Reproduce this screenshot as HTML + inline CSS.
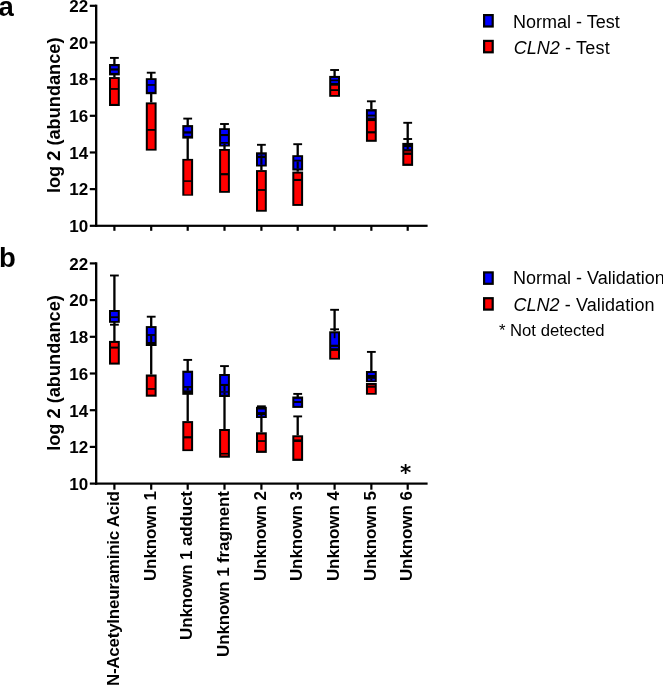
<!DOCTYPE html>
<html><head><meta charset="utf-8"><title>Figure</title>
<style>
html,body{margin:0;padding:0;background:#fff;}
svg{display:block;}
text{font-family:"Liberation Sans",Arial,sans-serif;fill:#000;}
.tl{font-size:17px;font-weight:bold;text-anchor:end;}
.xl{font-size:17px;font-weight:bold;text-anchor:end;}
.yt{font-size:18.2px;font-weight:bold;text-anchor:middle;}
.pl{font-size:27.5px;font-weight:bold;}
.lg{font-size:18px;}
</style></head>
<body>
<svg width="663" height="685" viewBox="0 0 663 685">
<rect width="663" height="685" fill="#fff"/>
<text x="-1.6" y="15.8" class="pl">a</text>
<text x="-0.9" y="266.7" class="pl">b</text>
<text transform="translate(59.6,115.3) rotate(-90)" class="yt">log 2 (abundance)</text>
<text transform="translate(59.7,373.0) rotate(-90)" class="yt">log 2 (abundance)</text>
<rect x="95.0" y="4.70" width="2.35" height="222.20" fill="#000"/>
<rect x="89.8" y="224.70" width="6.5" height="2.2" fill="#000"/>
<text x="88.1" y="232.10" class="tl">10</text>
<rect x="89.8" y="188.03" width="6.5" height="2.2" fill="#000"/>
<text x="88.1" y="195.43" class="tl">12</text>
<rect x="89.8" y="151.37" width="6.5" height="2.2" fill="#000"/>
<text x="88.1" y="158.77" class="tl">14</text>
<rect x="89.8" y="114.70" width="6.5" height="2.2" fill="#000"/>
<text x="88.1" y="122.10" class="tl">16</text>
<rect x="89.8" y="78.03" width="6.5" height="2.2" fill="#000"/>
<text x="88.1" y="85.43" class="tl">18</text>
<rect x="89.8" y="41.37" width="6.5" height="2.2" fill="#000"/>
<text x="88.1" y="48.77" class="tl">20</text>
<rect x="89.8" y="4.70" width="6.5" height="2.2" fill="#000"/>
<text x="88.1" y="12.10" class="tl">22</text>
<rect x="95.0" y="224.70" width="332.60" height="2.2" fill="#000"/>
<rect x="113.30" y="225.80" width="2.2" height="5.0" fill="#000"/>
<rect x="150.10" y="225.80" width="2.2" height="5.0" fill="#000"/>
<rect x="186.60" y="225.80" width="2.2" height="5.0" fill="#000"/>
<rect x="223.40" y="225.80" width="2.2" height="5.0" fill="#000"/>
<rect x="260.30" y="225.80" width="2.2" height="5.0" fill="#000"/>
<rect x="296.60" y="225.80" width="2.2" height="5.0" fill="#000"/>
<rect x="333.50" y="225.80" width="2.2" height="5.0" fill="#000"/>
<rect x="370.25" y="225.80" width="2.2" height="5.0" fill="#000"/>
<rect x="406.60" y="225.80" width="2.2" height="5.0" fill="#000"/>
<rect x="95.0" y="262.30" width="2.35" height="222.40" fill="#000"/>
<rect x="89.8" y="482.50" width="6.5" height="2.2" fill="#000"/>
<text x="88.1" y="489.90" class="tl">10</text>
<rect x="89.8" y="445.80" width="6.5" height="2.2" fill="#000"/>
<text x="88.1" y="453.20" class="tl">12</text>
<rect x="89.8" y="409.10" width="6.5" height="2.2" fill="#000"/>
<text x="88.1" y="416.50" class="tl">14</text>
<rect x="89.8" y="372.40" width="6.5" height="2.2" fill="#000"/>
<text x="88.1" y="379.80" class="tl">16</text>
<rect x="89.8" y="335.70" width="6.5" height="2.2" fill="#000"/>
<text x="88.1" y="343.10" class="tl">18</text>
<rect x="89.8" y="299.00" width="6.5" height="2.2" fill="#000"/>
<text x="88.1" y="306.40" class="tl">20</text>
<rect x="89.8" y="262.30" width="6.5" height="2.2" fill="#000"/>
<text x="88.1" y="269.70" class="tl">22</text>
<rect x="95.0" y="482.50" width="332.60" height="2.2" fill="#000"/>
<rect x="113.30" y="483.60" width="2.2" height="6.1" fill="#000"/>
<rect x="150.10" y="483.60" width="2.2" height="6.1" fill="#000"/>
<rect x="186.60" y="483.60" width="2.2" height="6.1" fill="#000"/>
<rect x="223.40" y="483.60" width="2.2" height="6.1" fill="#000"/>
<rect x="260.30" y="483.60" width="2.2" height="6.1" fill="#000"/>
<rect x="296.60" y="483.60" width="2.2" height="6.1" fill="#000"/>
<rect x="333.50" y="483.60" width="2.2" height="6.1" fill="#000"/>
<rect x="370.25" y="483.60" width="2.2" height="6.1" fill="#000"/>
<rect x="406.60" y="483.60" width="2.2" height="6.1" fill="#000"/>
<rect x="113.25" y="57.90" width="2.30" height="19.30" fill="#000"/>
<rect x="110.00" y="56.95" width="8.80" height="1.90" fill="#000"/>
<rect x="109.00" y="64.00" width="10.80" height="11.40" fill="#000"/>
<rect x="111.00" y="66.20" width="6.80" height="2.20" fill="#0000ff"/>
<rect x="111.00" y="70.60" width="6.80" height="2.30" fill="#0000ff"/>
<rect x="109.00" y="77.10" width="10.80" height="28.90" fill="#000"/>
<rect x="111.00" y="78.90" width="6.80" height="9.20" fill="#ff0000"/>
<rect x="111.00" y="89.80" width="6.80" height="14.10" fill="#ff0000"/>
<rect x="150.05" y="72.70" width="2.30" height="29.80" fill="#000"/>
<rect x="146.80" y="71.75" width="8.80" height="1.90" fill="#000"/>
<rect x="145.80" y="78.20" width="10.80" height="16.00" fill="#000"/>
<rect x="147.80" y="80.00" width="6.80" height="4.10" fill="#0000ff"/>
<rect x="147.80" y="85.80" width="6.80" height="6.10" fill="#0000ff"/>
<rect x="145.80" y="102.40" width="10.80" height="48.20" fill="#000"/>
<rect x="147.80" y="104.30" width="6.80" height="24.70" fill="#ff0000"/>
<rect x="147.80" y="130.80" width="6.80" height="18.10" fill="#ff0000"/>
<rect x="186.55" y="118.60" width="2.30" height="40.40" fill="#000"/>
<rect x="183.30" y="117.65" width="8.80" height="1.90" fill="#000"/>
<rect x="182.30" y="125.10" width="10.80" height="13.50" fill="#000"/>
<rect x="184.30" y="127.20" width="6.80" height="4.10" fill="#0000ff"/>
<rect x="184.30" y="133.60" width="6.80" height="2.30" fill="#0000ff"/>
<rect x="182.30" y="158.90" width="10.80" height="36.80" fill="#000"/>
<rect x="184.30" y="160.60" width="6.80" height="19.70" fill="#ff0000"/>
<rect x="184.30" y="181.90" width="6.80" height="12.50" fill="#ff0000"/>
<rect x="223.35" y="124.00" width="2.30" height="25.00" fill="#000"/>
<rect x="220.10" y="123.05" width="8.80" height="1.90" fill="#000"/>
<rect x="219.10" y="128.20" width="10.80" height="18.30" fill="#000"/>
<rect x="221.10" y="130.00" width="6.80" height="4.00" fill="#0000ff"/>
<rect x="221.10" y="136.10" width="6.80" height="5.90" fill="#0000ff"/>
<rect x="221.10" y="143.70" width="6.80" height="1.40" fill="#0000ff"/>
<rect x="223.45" y="143.70" width="2.10" height="1.40" fill="#000"/>
<rect x="219.10" y="149.00" width="10.80" height="43.80" fill="#000"/>
<rect x="221.10" y="150.80" width="6.80" height="22.30" fill="#ff0000"/>
<rect x="221.10" y="175.30" width="6.80" height="15.70" fill="#ff0000"/>
<rect x="260.25" y="144.80" width="2.30" height="25.40" fill="#000"/>
<rect x="257.00" y="143.85" width="8.80" height="1.90" fill="#000"/>
<rect x="256.00" y="152.30" width="10.80" height="14.20" fill="#000"/>
<rect x="258.00" y="154.60" width="6.80" height="1.20" fill="#0000ff"/>
<rect x="260.35" y="154.60" width="2.10" height="1.20" fill="#000"/>
<rect x="258.00" y="158.10" width="6.80" height="6.60" fill="#0000ff"/>
<rect x="260.35" y="158.10" width="2.10" height="6.60" fill="#000"/>
<rect x="256.00" y="170.10" width="10.80" height="41.60" fill="#000"/>
<rect x="258.00" y="171.90" width="6.80" height="17.20" fill="#ff0000"/>
<rect x="258.00" y="190.90" width="6.80" height="19.00" fill="#ff0000"/>
<rect x="296.55" y="144.20" width="2.30" height="27.50" fill="#000"/>
<rect x="293.30" y="143.25" width="8.80" height="1.90" fill="#000"/>
<rect x="292.30" y="155.20" width="10.80" height="15.30" fill="#000"/>
<rect x="294.30" y="157.00" width="6.80" height="2.70" fill="#0000ff"/>
<rect x="294.30" y="161.50" width="6.80" height="6.90" fill="#0000ff"/>
<rect x="296.65" y="161.50" width="2.10" height="6.90" fill="#000"/>
<rect x="292.30" y="171.60" width="10.80" height="34.30" fill="#000"/>
<rect x="294.30" y="173.60" width="6.80" height="5.30" fill="#ff0000"/>
<rect x="294.30" y="181.00" width="6.80" height="23.00" fill="#ff0000"/>
<rect x="333.45" y="70.00" width="2.30" height="6.00" fill="#000"/>
<rect x="330.20" y="69.05" width="8.80" height="1.90" fill="#000"/>
<rect x="329.20" y="75.90" width="10.80" height="20.90" fill="#000"/>
<rect x="331.20" y="78.00" width="6.80" height="1.50" fill="#0000ff"/>
<rect x="331.20" y="81.20" width="6.80" height="1.70" fill="#0000ff"/>
<rect x="331.20" y="85.70" width="6.80" height="3.50" fill="#ff0000"/>
<rect x="331.20" y="91.00" width="6.80" height="4.00" fill="#ff0000"/>
<rect x="370.20" y="101.30" width="2.30" height="7.90" fill="#000"/>
<rect x="366.95" y="100.35" width="8.80" height="1.90" fill="#000"/>
<rect x="365.95" y="109.10" width="10.80" height="32.70" fill="#000"/>
<rect x="367.95" y="111.50" width="6.80" height="3.10" fill="#0000ff"/>
<rect x="367.95" y="116.30" width="6.80" height="1.80" fill="#1a1aa0"/>
<rect x="367.95" y="121.10" width="6.80" height="10.10" fill="#ff0000"/>
<rect x="367.95" y="133.40" width="6.80" height="6.40" fill="#ff0000"/>
<rect x="406.55" y="122.80" width="2.30" height="20.20" fill="#000"/>
<rect x="403.30" y="121.85" width="8.80" height="1.90" fill="#000"/>
<rect x="403.30" y="138.05" width="8.80" height="1.90" fill="#000"/>
<rect x="402.30" y="142.90" width="10.80" height="23.00" fill="#000"/>
<rect x="404.30" y="147.00" width="6.80" height="2.20" fill="#0000ff"/>
<rect x="406.65" y="147.00" width="2.10" height="2.20" fill="#000"/>
<rect x="404.30" y="151.10" width="6.80" height="1.80" fill="#a00000"/>
<rect x="404.30" y="154.90" width="6.80" height="8.80" fill="#ff0000"/>
<rect x="113.25" y="275.50" width="2.30" height="65.50" fill="#000"/>
<rect x="110.00" y="274.55" width="8.80" height="1.90" fill="#000"/>
<rect x="109.00" y="310.00" width="10.80" height="12.80" fill="#000"/>
<rect x="111.00" y="312.00" width="6.80" height="4.30" fill="#0000ff"/>
<rect x="111.00" y="318.10" width="6.80" height="2.90" fill="#0000ff"/>
<rect x="110.00" y="323.75" width="8.80" height="1.90" fill="#000"/>
<rect x="109.00" y="340.90" width="10.80" height="23.70" fill="#000"/>
<rect x="111.00" y="342.90" width="6.80" height="3.70" fill="#ff0000"/>
<rect x="111.00" y="348.60" width="6.80" height="14.00" fill="#ff0000"/>
<rect x="150.05" y="316.70" width="2.30" height="57.90" fill="#000"/>
<rect x="146.80" y="315.75" width="8.80" height="1.90" fill="#000"/>
<rect x="145.80" y="326.10" width="10.80" height="19.90" fill="#000"/>
<rect x="147.80" y="328.00" width="6.80" height="6.10" fill="#0000ff"/>
<rect x="147.80" y="335.90" width="6.80" height="6.10" fill="#0000ff"/>
<rect x="150.15" y="335.90" width="2.10" height="6.10" fill="#000"/>
<rect x="145.80" y="374.50" width="10.80" height="22.20" fill="#000"/>
<rect x="147.80" y="376.70" width="6.80" height="11.40" fill="#ff0000"/>
<rect x="147.80" y="389.80" width="6.80" height="4.80" fill="#ff0000"/>
<rect x="186.55" y="359.90" width="2.30" height="61.30" fill="#000"/>
<rect x="183.30" y="358.95" width="8.80" height="1.90" fill="#000"/>
<rect x="182.30" y="370.70" width="10.80" height="24.10" fill="#000"/>
<rect x="184.30" y="372.90" width="6.80" height="13.20" fill="#0000ff"/>
<rect x="184.30" y="387.80" width="6.80" height="2.60" fill="#0000ff"/>
<rect x="186.65" y="387.80" width="2.10" height="2.60" fill="#000"/>
<rect x="182.30" y="421.10" width="10.80" height="30.00" fill="#000"/>
<rect x="184.30" y="423.10" width="6.80" height="13.10" fill="#ff0000"/>
<rect x="184.30" y="438.40" width="6.80" height="11.00" fill="#ff0000"/>
<rect x="223.35" y="366.10" width="2.30" height="63.00" fill="#000"/>
<rect x="220.10" y="365.15" width="8.80" height="1.90" fill="#000"/>
<rect x="219.10" y="374.00" width="10.80" height="23.00" fill="#000"/>
<rect x="221.10" y="376.00" width="6.80" height="7.90" fill="#0000ff"/>
<rect x="221.10" y="386.00" width="6.80" height="5.30" fill="#0000ff"/>
<rect x="223.45" y="386.00" width="2.10" height="5.30" fill="#000"/>
<rect x="221.10" y="392.60" width="6.80" height="2.20" fill="#0000ff"/>
<rect x="223.45" y="392.60" width="2.10" height="2.20" fill="#000"/>
<rect x="219.10" y="429.00" width="10.80" height="28.70" fill="#000"/>
<rect x="221.10" y="431.00" width="6.80" height="21.90" fill="#ff0000"/>
<rect x="221.10" y="454.20" width="6.80" height="1.80" fill="#a00000"/>
<rect x="260.25" y="406.30" width="2.30" height="26.10" fill="#000"/>
<rect x="257.00" y="405.35" width="8.80" height="1.90" fill="#000"/>
<rect x="256.00" y="406.80" width="10.80" height="11.20" fill="#000"/>
<rect x="258.00" y="409.50" width="6.80" height="2.60" fill="#0000ff"/>
<rect x="258.00" y="415.00" width="6.80" height="1.20" fill="#0000ff"/>
<rect x="260.35" y="415.00" width="2.10" height="1.20" fill="#000"/>
<rect x="256.00" y="432.30" width="10.80" height="20.60" fill="#000"/>
<rect x="258.00" y="434.50" width="6.80" height="5.70" fill="#ff0000"/>
<rect x="258.00" y="441.90" width="6.80" height="8.80" fill="#ff0000"/>
<rect x="296.55" y="393.90" width="2.30" height="3.10" fill="#000"/>
<rect x="293.30" y="392.95" width="8.80" height="1.90" fill="#000"/>
<rect x="292.30" y="396.50" width="10.80" height="11.40" fill="#000"/>
<rect x="294.30" y="398.90" width="6.80" height="2.10" fill="#0000ff"/>
<rect x="294.30" y="403.00" width="6.80" height="2.90" fill="#0000ff"/>
<rect x="296.55" y="416.40" width="2.30" height="19.00" fill="#000"/>
<rect x="293.30" y="415.45" width="8.80" height="1.90" fill="#000"/>
<rect x="292.30" y="435.30" width="10.80" height="25.60" fill="#000"/>
<rect x="294.30" y="437.20" width="6.80" height="2.20" fill="#ff0000"/>
<rect x="294.30" y="442.00" width="6.80" height="16.70" fill="#ff0000"/>
<rect x="333.45" y="309.80" width="2.30" height="21.60" fill="#000"/>
<rect x="330.20" y="308.85" width="8.80" height="1.90" fill="#000"/>
<rect x="330.20" y="328.35" width="8.80" height="1.90" fill="#000"/>
<rect x="329.20" y="331.30" width="10.80" height="28.30" fill="#000"/>
<rect x="331.20" y="333.30" width="6.80" height="11.40" fill="#0000ff"/>
<rect x="331.20" y="346.90" width="6.80" height="1.30" fill="#0000ff"/>
<rect x="331.20" y="350.90" width="6.80" height="7.00" fill="#ff0000"/>
<rect x="333.75" y="333.00" width="1.70" height="5.20" fill="#000"/>
<rect x="370.20" y="351.90" width="2.30" height="19.20" fill="#000"/>
<rect x="366.95" y="350.95" width="8.80" height="1.90" fill="#000"/>
<rect x="365.95" y="371.00" width="10.80" height="11.00" fill="#000"/>
<rect x="367.95" y="373.00" width="6.80" height="2.00" fill="#0000ff"/>
<rect x="367.95" y="378.80" width="6.80" height="1.70" fill="#0000ff"/>
<rect x="370.30" y="378.80" width="2.10" height="1.70" fill="#000"/>
<rect x="365.95" y="382.90" width="10.80" height="11.80" fill="#000"/>
<rect x="367.95" y="384.90" width="6.80" height="1.20" fill="#a00000"/>
<rect x="367.95" y="387.70" width="6.80" height="5.30" fill="#ff0000"/>
<text x="405.7" y="480.2" font-size="21.5" font-weight="bold" style="font-family:'DejaVu Sans',sans-serif" text-anchor="middle">*</text>
<text transform="translate(119.00,491.1) rotate(-90)" class="xl" textLength="195" lengthAdjust="spacing">N-Acetylneuraminic Acid</text>
<text transform="translate(155.80,491.1) rotate(-90)" class="xl" textLength="90" lengthAdjust="spacing">Unknown 1</text>
<text transform="translate(192.30,491.1) rotate(-90)" class="xl" textLength="148.8" lengthAdjust="spacing">Unknown 1 adduct</text>
<text transform="translate(229.10,491.1) rotate(-90)" class="xl" textLength="165.9" lengthAdjust="spacing">Unknown 1 fragment</text>
<text transform="translate(266.00,491.1) rotate(-90)" class="xl" textLength="90" lengthAdjust="spacing">Unknown 2</text>
<text transform="translate(302.30,491.1) rotate(-90)" class="xl" textLength="90" lengthAdjust="spacing">Unknown 3</text>
<text transform="translate(339.20,491.1) rotate(-90)" class="xl" textLength="90" lengthAdjust="spacing">Unknown 4</text>
<text transform="translate(375.95,491.1) rotate(-90)" class="xl" textLength="90" lengthAdjust="spacing">Unknown 5</text>
<text transform="translate(412.30,491.1) rotate(-90)" class="xl" textLength="90" lengthAdjust="spacing">Unknown 6</text>
<!-- legends -->
<rect x="483" y="14" width="10.8" height="13.6" fill="#000"/><rect x="485.2" y="16.2" width="6.4" height="9.2" fill="#0000ff"/>
<rect x="483" y="39.8" width="10.8" height="13.6" fill="#000"/><rect x="485.2" y="42" width="6.4" height="9.2" fill="#ff0000"/>
<text x="513.1" y="27.5" class="lg">Normal - Test</text>
<text x="513.8" y="53.6" class="lg"><tspan font-style="italic">CLN2</tspan><tspan letter-spacing="0.2"> - Test</tspan></text>
<rect x="483" y="271.3" width="10.8" height="13.6" fill="#000"/><rect x="485.2" y="273.5" width="6.4" height="9.2" fill="#0000ff"/>
<rect x="483" y="297.1" width="10.8" height="13.6" fill="#000"/><rect x="485.2" y="299.3" width="6.4" height="9.2" fill="#ff0000"/>
<text x="513.1" y="284.4" class="lg">Normal - Validation</text>
<text x="513.6" y="310.7" class="lg"><tspan font-style="italic">CLN2</tspan><tspan letter-spacing="0.1"> - Validation</tspan></text>
<text x="498.9" y="335.6" font-size="16.7">* Not detected</text>
</svg>
</body></html>
